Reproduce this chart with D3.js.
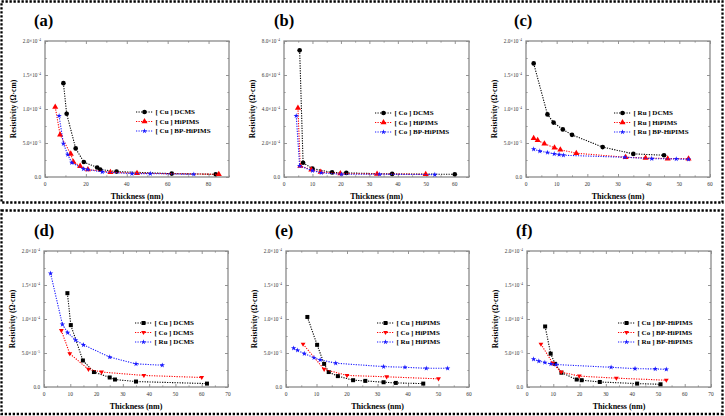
<!DOCTYPE html>
<html><head><meta charset="utf-8">
<script src="https://cdn.jsdelivr.net/npm/d3@7"></script>
<style>body{margin:0;background:#fff}svg{display:block}</style>
</head><body>
<svg id="c" width="725" height="416"></svg>
<script>
// ---- data: [thickness (nm), resistivity (Ω·cm)] ----
const aCuDCMS   = [[9,1.38e-4],[10.6,0.93e-4],[15,0.42e-4],[19,0.22e-4],[25.5,0.14e-4],[27,0.11e-4],[35,0.08e-4],[62,0.05e-4],[83.5,0.04e-4]];
const aCuHiP    = [[5,1.03e-4],[7.4,0.62e-4],[12.6,0.34e-4],[13.9,0.22e-4],[17.2,0.16e-4],[21,0.11e-4],[32,0.07e-4],[45,0.055e-4],[85,0.04e-4]];
const aCuBP     = [[6.9,0.90e-4],[9,0.49e-4],[11.1,0.33e-4],[13.1,0.21e-4],[18.8,0.12e-4],[20.8,0.11e-4],[28,0.074e-4],[42.5,0.05e-4],[51.5,0.05e-4],[72.8,0.04e-4]];

const bCoDCMS   = [[5.5,7.45e-4],[6.7,0.84e-4],[10,0.49e-4],[16.9,0.27e-4],[21.9,0.24e-4],[38,0.18e-4],[60,0.16e-4]];
const bCoHiP    = [[4.9,4.06e-4],[5.7,0.65e-4],[9.6,0.43e-4],[12.9,0.29e-4],[19.8,0.20e-4],[32.7,0.18e-4],[49.8,0.16e-4]];
const bCoBP     = [[4.3,3.60e-4],[5.5,0.65e-4],[10,0.37e-4],[13.1,0.25e-4],[20.2,0.16e-4],[33.6,0.16e-4],[53,0.14e-4]];

const cRuDCMS   = [[2.5,1.67e-4],[7,0.92e-4],[9,0.80e-4],[12,0.70e-4],[15,0.62e-4],[25,0.44e-4],[35,0.34e-4],[45,0.32e-4]];
const cRuHiP    = [[2.5,0.57e-4],[3.8,0.54e-4],[6,0.49e-4],[9.3,0.43e-4],[11.2,0.40e-4],[16.4,0.35e-4],[32.5,0.29e-4],[39,0.28e-4],[46.2,0.27e-4],[53,0.27e-4]];
const cRuBP     = [[2.5,0.41e-4],[4.5,0.38e-4],[7,0.36e-4],[9.2,0.34e-4],[10.8,0.33e-4],[12.2,0.32e-4],[32.2,0.29e-4],[41,0.27e-4],[49,0.265e-4],[53,0.26e-4]];

const dCuDCMS   = [[8.9,1.38e-4],[10.2,0.91e-4],[14.8,0.39e-4],[19,0.22e-4],[25,0.14e-4],[27,0.11e-4],[35,0.08e-4],[62,0.05e-4]];
const dCoDCMS   = [[6.6,0.83e-4],[9.8,0.49e-4],[16.9,0.26e-4],[21.9,0.22e-4],[38,0.17e-4],[60,0.14e-4]];
const dRuDCMS   = [[2.5,1.67e-4],[7,0.92e-4],[9,0.80e-4],[12,0.69e-4],[15,0.62e-4],[25,0.44e-4],[35,0.34e-4],[45,0.32e-4]];

const eCuHiP    = [[7,1.03e-4],[10.2,0.62e-4],[12.5,0.34e-4],[14,0.22e-4],[17,0.16e-4],[22,0.10e-4],[26,0.09e-4],[32,0.07e-4],[36,0.06e-4],[45,0.05e-4]];
const eCoHiP    = [[5.6,0.63e-4],[12.5,0.26e-4],[20,0.17e-4],[33,0.15e-4],[50,0.12e-4]];
const eRuHiP    = [[2.5,0.57e-4],[3.8,0.54e-4],[6,0.49e-4],[9.2,0.43e-4],[11.2,0.40e-4],[16.3,0.35e-4],[32,0.30e-4],[39,0.29e-4],[46,0.275e-4],[53,0.275e-4]];

const fCuBP     = [[6.9,0.89e-4],[9,0.49e-4],[10.7,0.34e-4],[13.1,0.21e-4],[18.9,0.11e-4],[20.8,0.10e-4],[27.7,0.074e-4],[41.9,0.05e-4],[50.8,0.04e-4]];
const fCoBP     = [[5.3,0.63e-4],[9.8,0.35e-4],[13,0.22e-4],[19.9,0.16e-4],[34,0.13e-4],[53,0.10e-4]];
const fRuBP     = [[2.5,0.41e-4],[4.5,0.38e-4],[6.8,0.36e-4],[9.1,0.34e-4],[11.1,0.33e-4],[32,0.29e-4],[41.1,0.27e-4],[48.8,0.265e-4],[53,0.26e-4]];

// ---- tick values ----
const yTicks2e4 = [0, 5e-5, 1e-4, 1.5e-4, 2e-4];
const yTicks8e4 = [0, 2e-4, 4e-4, 6e-4, 8e-4];
const xTicks90 = [0,20,40,60,80];
const xTicks65 = [0,10,20,30,40,50,60];
const xTicks60 = [0,10,20,30,40,50,60];
const xTicks70 = [0,10,20,30,40,50,60,70];

const xTitle = "Thickness (nm)";
const yTitle = "Resistivity (\u03A9\u00B7cm)";

const BLACK="#000", RED="#ff0000", BLUE="#1a1aff";

const panels = [
 {tag:"(a)", L:45,R:229,T:41,B:177, xMax:90, xt:xTicks90, yMax:2e-4, yt:yTicks2e4, lx:34, ly:26, legX:136, legY:112,
  series:[{d:aCuDCMS,c:BLACK,s:"circle",n:"[ Cu ] DCMS"},{d:aCuHiP,c:RED,s:"tri",n:"[ Cu ] HiPIMS"},{d:aCuBP,c:BLUE,s:"star",n:"[ Cu ] BP-HiPIMS"}]},
 {tag:"(b)", L:284,R:469,T:41,B:177, xMax:65, xt:xTicks65, yMax:8e-4, yt:yTicks8e4, lx:274, ly:26, legX:375, legY:113,
  series:[{d:bCoDCMS,c:BLACK,s:"circle",n:"[ Co ] DCMS"},{d:bCoHiP,c:RED,s:"tri",n:"[ Co ] HiPIMS"},{d:bCoBP,c:BLUE,s:"star",n:"[ Co ] BP-HiPIMS"}]},
 {tag:"(c)", L:526,R:710,T:41,B:177, xMax:60, xt:xTicks60, yMax:2e-4, yt:yTicks2e4, lx:514, ly:26, legX:614, legY:113,
  series:[{d:cRuDCMS,c:BLACK,s:"circle",n:"[ Ru ] DCMS"},{d:cRuHiP,c:RED,s:"tri",n:"[ Ru ] HiPIMS"},{d:cRuBP,c:BLUE,s:"star",n:"[ Ru ] BP-HiPIMS"}]},
 {tag:"(d)", L:44,R:228,T:251,B:387, xMax:70, xt:xTicks70, yMax:2e-4, yt:yTicks2e4, lx:34, ly:236, legX:135, legY:323,
  series:[{d:dCuDCMS,c:BLACK,s:"square",n:"[ Cu ] DCMS"},{d:dCoDCMS,c:RED,s:"tridown",n:"[ Co ] DCMS"},{d:dRuDCMS,c:BLUE,s:"star",n:"[ Ru ] DCMS"}]},
 {tag:"(e)", L:286,R:469,T:251,B:387, xMax:60, xt:xTicks60, yMax:2e-4, yt:yTicks2e4, lx:275, ly:236, legX:377, legY:323,
  series:[{d:eCuHiP,c:BLACK,s:"square",n:"[ Cu ] HiPIMS"},{d:eCoHiP,c:RED,s:"tridown",n:"[ Co ] HiPIMS"},{d:eRuHiP,c:BLUE,s:"star",n:"[ Ru ] HiPIMS"}]},
 {tag:"(f)", L:527,R:711,T:251,B:387, xMax:70, xt:xTicks70, yMax:2e-4, yt:yTicks2e4, lx:516, ly:236, legX:618, legY:323,
  series:[{d:fCuBP,c:BLACK,s:"square",n:"[ Cu ] BP-HiPIMS"},{d:fCoBP,c:RED,s:"tridown",n:"[ Co ] BP-HiPIMS"},{d:fRuBP,c:BLUE,s:"star",n:"[ Ru ] BP-HiPIMS"}]}
];

const svg = d3.select("#c");
const SERIF = "'Liberation Serif','Times New Roman',serif";

// dotted outer boxes
[[1.5,1.5,721,201],[1.5,210.5,721,203.5]].forEach(([x,y,w,h])=>{
  svg.append("rect").attr("x",x).attr("y",y).attr("width",w).attr("height",h)
    .attr("fill","none").attr("stroke","#000").attr("stroke-width",2.3).attr("stroke-dasharray","2.3,1.7");
});

function symPath(s){
  if(s==="circle") return d3.symbol(d3.symbolCircle, 17)();
  if(s==="square") return d3.symbol(d3.symbolSquare, 16)();
  if(s==="tri") return d3.symbol(d3.symbolTriangle, 16)();
  if(s==="tridown") return "M-2.4,-1.5L2.4,-1.5L0,2.6Z";
  return d3.symbol(d3.symbolStar, 9)();
}

function yLabel(g, v){
  const t = g.append("text").attr("text-anchor","end").attr("font-family",SERIF).attr("font-size",5.2).attr("fill","#333");
  if(v===0){ t.text("0.0"); return t; }
  const e = Math.floor(Math.log10(v)+1e-9);
  const m = v/Math.pow(10,e);
  t.append("tspan").text(m.toFixed(1)+"\u00D710");
  t.append("tspan").attr("font-size",3.4).attr("dy",-2.2).text("\u2212"+(-e));
  return t;
}

panels.forEach(p=>{
  const x = d3.scaleLinear().domain([0,p.xMax]).range([p.L,p.R]);
  const y = d3.scaleLinear().domain([0,p.yMax]).range([p.B,p.T]);
  const g = svg.append("g");
  const xStep = p.xt[1]-p.xt[0], yStep = p.yt[1]-p.yt[0];
  const xMinor = d3.range(xStep/2, p.xMax+1e-9, xStep/2).filter(v=>!p.xt.some(t=>Math.abs(t-v)<1e-9));
  const yMinor = d3.range(yStep/2, p.yMax+1e-12, yStep/2).filter(v=>!p.yt.some(t=>Math.abs(t-v)<1e-12));

  const axCol = "#8a8a8a";
  const styleAx = sel => { sel.select(".domain").remove(); sel.selectAll("line").attr("stroke",axCol).attr("stroke-width",0.9); sel.selectAll("text").remove(); };
  g.append("g").attr("transform",`translate(0,${p.B})`).call(d3.axisBottom(x).tickValues(p.xt).tickSize(-3)).call(styleAx);
  g.append("g").attr("transform",`translate(0,${p.B})`).call(d3.axisBottom(x).tickValues(xMinor).tickSize(-1.6)).call(styleAx);
  g.append("g").attr("transform",`translate(0,${p.T})`).call(d3.axisTop(x).tickValues(p.xt).tickSize(-3)).call(styleAx);
  g.append("g").attr("transform",`translate(0,${p.T})`).call(d3.axisTop(x).tickValues(xMinor).tickSize(-1.6)).call(styleAx);
  g.append("g").attr("transform",`translate(${p.L},0)`).call(d3.axisLeft(y).tickValues(p.yt).tickSize(-3)).call(styleAx);
  g.append("g").attr("transform",`translate(${p.L},0)`).call(d3.axisLeft(y).tickValues(yMinor).tickSize(-1.6)).call(styleAx);
  g.append("g").attr("transform",`translate(${p.R},0)`).call(d3.axisRight(y).tickValues(p.yt).tickSize(-3)).call(styleAx);
  g.append("g").attr("transform",`translate(${p.R},0)`).call(d3.axisRight(y).tickValues(yMinor).tickSize(-1.6)).call(styleAx);
  g.append("rect").attr("x",p.L).attr("y",p.T).attr("width",p.R-p.L).attr("height",p.B-p.T)
    .attr("fill","none").attr("stroke",axCol).attr("stroke-width",1.3);

  p.xt.forEach(v=>{
    g.append("text").attr("x",x(v)).attr("y",p.B+8.5).attr("text-anchor","middle")
      .attr("font-family",SERIF).attr("font-size",5.4).attr("fill","#333").text(v);
  });
  p.yt.forEach(v=>{
    yLabel(g,v).attr("x",p.L-4).attr("y",y(v)+1.8);
  });

  g.append("text").attr("x",(p.L+p.R)/2).attr("y",p.B+22).attr("text-anchor","middle")
    .attr("font-family",SERIF).attr("font-weight","bold").attr("font-size",8).attr("fill","#000").text(xTitle);
  g.append("text").attr("transform",`translate(${p.L-29},${(p.T+p.B)/2}) rotate(-90)`).attr("text-anchor","middle")
    .attr("font-family",SERIF).attr("font-weight","bold").attr("font-size",7.5).attr("fill","#000").text(yTitle);
  g.append("text").attr("x",p.lx).attr("y",p.ly).attr("font-family",SERIF).attr("font-weight","bold")
    .attr("font-size",16.5).attr("fill","#000").text(p.tag);

  const line = d3.line().x(d=>x(d[0])).y(d=>y(d[1]));
  p.series.forEach(s=>{
    g.append("path").attr("d",line(s.d)).attr("fill","none").attr("stroke",s.c)
      .attr("stroke-width",1.1).attr("stroke-dasharray","1.2,1.3");
    g.selectAll(null).data(s.d).enter().append("path")
      .attr("transform",d=>`translate(${x(d[0])},${y(d[1])})`).attr("d",symPath(s.s)).attr("fill",s.c);
  });

  p.series.forEach((s,i)=>{
    const ly = p.legY + i*9.5;
    g.append("line").attr("x1",p.legX).attr("x2",p.legX+17).attr("y1",ly).attr("y2",ly)
      .attr("stroke",s.c).attr("stroke-width",1.1).attr("stroke-dasharray","1.2,1.3");
    g.append("path").attr("transform",`translate(${p.legX+8.5},${ly})`).attr("d",symPath(s.s)).attr("fill",s.c);
    g.append("text").attr("x",p.legX+19.5).attr("y",ly+2.4).attr("font-family",SERIF).attr("font-weight","bold")
      .attr("font-size",7).attr("fill","#000").text(s.n);
  });
});
</script>
</body></html>
